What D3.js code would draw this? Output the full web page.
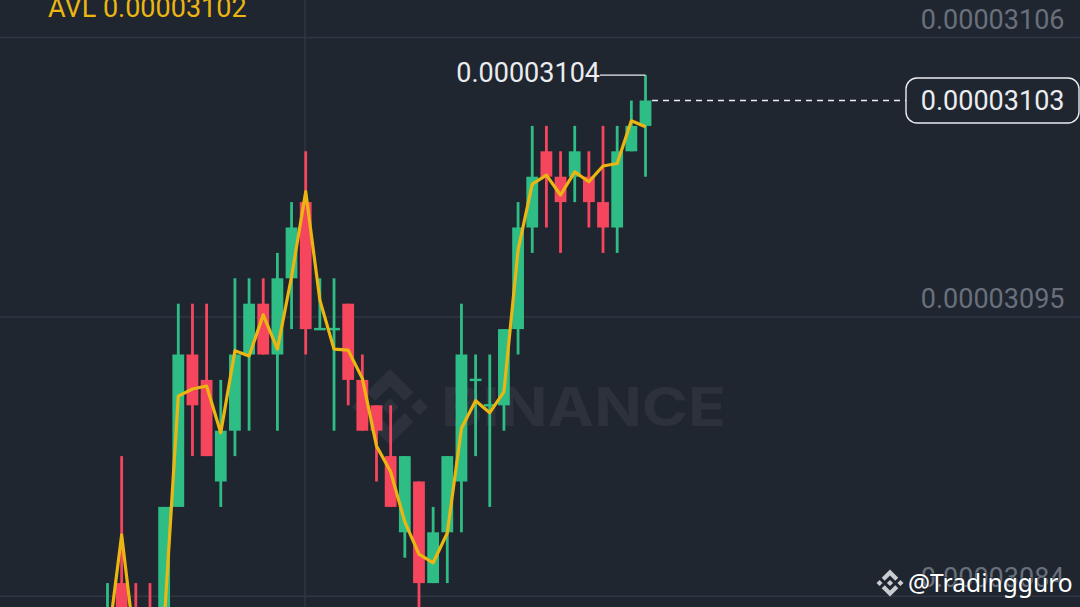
<!DOCTYPE html>
<html>
<head>
<meta charset="utf-8">
<script src="https://cdn.jsdelivr.net/npm/d3@7"></script>
<style>
  html, body { margin: 0; padding: 0; background: #1f2630; overflow: hidden; }
  text { font-family: Roboto, sans-serif; }
</style>
</head>
<body>
<svg id="chart" width="1080" height="607"></svg>
<script>
// prices are in units of 0.00000001
var opens = [3081.5, 3084.5, 3083.5, 3083.5, 3081.5, 3087.5, 3093.5, 3092.5, 3088.5, 3090.5, 3093.5, 3095.5, 3093.5, 3096.5, 3099.5, 3094.5, 3094.5, 3095.5, 3092.5, 3091.5, 3089.5, 3086.5, 3088.5, 3084.5, 3086.5, 3088.5, 3092.5, 3091.5, 3091.5, 3094.5, 3098.5, 3101.5, 3100.5, 3100.5, 3100.5, 3099.5, 3098.5, 3101.5, 3102.5];
var closes = [3083.5, 3082.5, 3082.5, 3082.5, 3087.5, 3093.5, 3091.5, 3089.5, 3090.5, 3093.5, 3095.5, 3093.5, 3096.5, 3098.5, 3094.5, 3094.5, 3094.5, 3092.5, 3090.5, 3090.5, 3087.5, 3089.5, 3084.5, 3086.5, 3089.5, 3093.5, 3092.5, 3091.5, 3094.5, 3098.5, 3100.5, 3100.5, 3099.5, 3101.5, 3099.5, 3098.5, 3101.5, 3102.5, 3103.5];
var highs = [3084.5, 3089.5, 3084.5, 3084.5, 3087.5, 3095.5, 3095.5, 3095.5, 3092.5, 3096.5, 3096.5, 3096.5, 3097.5, 3099.5, 3101.5, 3096.5, 3096.5, 3095.5, 3093.5, 3091.5, 3091.5, 3089.5, 3088.5, 3087.5, 3089.5, 3095.5, 3093.5, 3093.5, 3094.5, 3099.5, 3102.5, 3102.5, 3101.5, 3102.5, 3101.5, 3102.5, 3102.5, 3103.5, 3104.5];
var lows = [3081.5, 3082.5, 3081.5, 3081.5, 3081.5, 3087.5, 3089.5, 3089.5, 3087.5, 3089.5, 3090.5, 3093.5, 3090.5, 3094.5, 3093.5, 3094.5, 3090.5, 3091.5, 3090.5, 3088.5, 3087.5, 3085.5, 3082.5, 3084.5, 3084.5, 3086.5, 3089.5, 3087.5, 3090.5, 3093.5, 3097.5, 3098.5, 3097.5, 3099.5, 3098.5, 3097.5, 3097.5, 3101.5, 3100.5];
var avl = [3082.0, 3086.4, 3081.7, 3082.3, 3082.9, 3091.86, 3092.14, 3092.26, 3090.42, 3093.65, 3093.44, 3095.06, 3093.71, 3096.56, 3099.91, 3095.64, 3093.71, 3093.67, 3092.56, 3089.9, 3088.88, 3086.91, 3085.64, 3085.3, 3086.47, 3090.6, 3091.68, 3091.21, 3092.03, 3097.61, 3100.21, 3100.56, 3099.78, 3100.69, 3100.3, 3100.92, 3101.02, 3102.7, 3102.47];
var priceTicks = [3106, 3095, 3084];
var highLabel = "0.00003104";
var lastLabel = "0.00003103";
var avlLabel = "AVL 0.00003102";

var bg = "#1f2630", green = "#2ebd85", red = "#f6465d", yellow = "#ecb612";
var logoPaths = [
  "M38.73 53.2l24.59-24.58 24.6 24.6 14.3-14.31L63.32 0 24.43 38.9z",
  "M0 63.31l14.3-14.31 14.31 14.31-14.31 14.3z",
  "M38.73 73.41l24.59 24.59 24.6-24.6 14.31 14.29-38.9 38.91-38.91-38.88-.02-.02z",
  "M98 63.31l14.3-14.31 14.31 14.3-14.31 14.32z",
  "M77.83 63.3L63.32 48.78 52.59 59.51l-1.24 1.23-2.54 2.54 14.51 14.5 14.51-14.46z"
];

var svg = d3.select("#chart");
var x = d3.scaleLinear().domain([0, opens.length - 1]).range([107.5, 645.5]);
var y = d3.scaleLinear().domain([3106, 3084]).range([37, 595.8]);

svg.append("rect").attr("width", 1080).attr("height", 607).attr("fill", bg);

// Grid and price axis
var axis = d3.axisRight(y)
  .tickValues(priceTicks)
  .tickSize(1080)
  .tickFormat((d) => (d * 1e-8).toFixed(8));
var axisG = svg.append("g").call(axis);
axisG.select(".domain").remove();
axisG.selectAll("line").attr("stroke", "#303743").attr("stroke-width", 1.5);
axisG.selectAll("text")
  .attr("x", 1064.5)
  .attr("dy", -9)
  .attr("text-anchor", "end")
  .attr("fill", "#69707c")
  .style("font-size", "27px")
  .style("font-family", "Roboto, sans-serif");

// Vertical grid line
svg.append("line")
  .attr("x1", 305).attr("x2", 305)
  .attr("y1", 0).attr("y2", 607)
  .attr("stroke", "#303743").attr("stroke-width", 1.5);

// Watermark
function drawLogo(cx, cy, size, fill) {
  var g = svg.append("g")
    .attr("transform", `translate(${cx - size / 2},${cy - size / 2}) scale(${size / 126.61})`)
    .attr("fill", fill);
  logoPaths.forEach((p) => g.append("path").attr("d", p));
}
drawLogo(390, 407, 76, "#2c313c");
svg.append("text")
  .attr("x", 441).attr("y", 426)
  .attr("textLength", 285)
  .attr("lengthAdjust", "spacingAndGlyphs")
  .attr("fill", "#2c313c")
  .style("font-family", "Inter, Roboto, sans-serif")
  .style("font-weight", 700)
  .style("font-size", "54px")
  .text("BINANCE");

// Candles
var candles = opens.map((o, i) => ({ i: i, o: o, c: closes[i], h: highs[i], l: lows[i] }));
var color = (d) => (d.c >= d.o ? green : red);

svg.append("g").selectAll("line").data(candles).join("line")
  .attr("x1", (d) => x(d.i)).attr("x2", (d) => x(d.i))
  .attr("y1", (d) => y(d.h)).attr("y2", (d) => y(d.l))
  .attr("stroke", color).attr("stroke-width", 2.8);

svg.append("g").selectAll("rect").data(candles).join("rect")
  .attr("x", (d) => x(d.i) - 5.9)
  .attr("width", 11.8)
  .attr("y", (d) => y(Math.max(d.o, d.c)) - (d.o === d.c ? 1.2 : 0))
  .attr("height", (d) => Math.max(2.4, Math.abs(y(d.o) - y(d.c))))
  .attr("fill", color);

// AVL line
var line = d3.line().x((d, i) => x(i)).y((d) => y(d));
svg.append("path")
  .attr("d", line(avl))
  .attr("fill", "none")
  .attr("stroke", yellow)
  .attr("stroke-width", 3.2)
  .attr("stroke-linejoin", "round");

svg.append("text")
  .attr("x", 48).attr("y", 17)
  .attr("fill", yellow)
  .style("font-size", "27px")
  .text(avlLabel);

// High marker
var highY = y(d3.max(highs));
svg.append("line")
  .attr("x1", 600).attr("x2", x(opens.length - 1))
  .attr("y1", highY).attr("y2", highY)
  .attr("stroke", "#eaecef").attr("stroke-width", 1.3);
svg.append("text")
  .attr("x", 600).attr("y", 81.5)
  .attr("text-anchor", "end")
  .attr("fill", "#eaecef")
  .style("font-size", "27px")
  .text(highLabel);

// Last price marker
var lastY = y(closes[closes.length - 1]);
svg.append("line")
  .attr("x1", 652).attr("x2", 906)
  .attr("y1", lastY).attr("y2", lastY)
  .attr("stroke", "#eaecef").attr("stroke-width", 1.4)
  .attr("stroke-dasharray", "6 5");
svg.append("rect")
  .attr("x", 906).attr("y", lastY - 22.5)
  .attr("width", 173).attr("height", 45)
  .attr("rx", 11)
  .attr("fill", bg)
  .attr("stroke", "#eaecef").attr("stroke-width", 1.4);
svg.append("text")
  .attr("x", 1064.5).attr("y", lastY + 9.5)
  .attr("text-anchor", "end")
  .attr("fill", "#eaecef")
  .style("font-size", "27px")
  .text(lastLabel);

// Author tag
drawLogo(890, 583, 27, "#c9ccd1");
svg.append("text")
  .attr("x", 908).attr("y", 592)
  .attr("fill", "#ffffff")
  .style("font-family", "'Noto Sans', sans-serif")
  .style("font-size", "24.6px")
  .style("paint-order", "stroke")
  .style("stroke", "rgba(30,36,46,0.55)")
  .style("stroke-width", "2px")
  .text("@Tradingguro");
</script>
</body>
</html>
